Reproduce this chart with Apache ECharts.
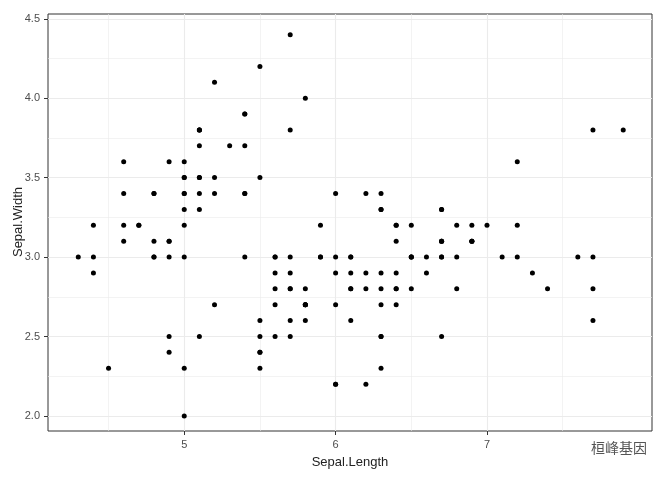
<!DOCTYPE html><html><head><meta charset="utf-8"><script src="https://cdn.jsdelivr.net/npm/echarts@6/dist/echarts.min.js"></script></head><body style="margin:0"><div id="c" style="width:665px;height:479px"></div><script>
const sepalLength=[5.1,4.9,4.7,4.6,5.0,5.4,4.6,5.0,4.4,4.9,5.4,4.8,4.8,4.3,5.8,5.7,5.4,5.1,5.7,5.1,5.4,5.1,4.6,5.1,4.8,5.0,5.0,5.2,5.2,4.7,4.8,5.4,5.2,5.5,4.9,5.0,5.5,4.9,4.4,5.1,5.0,4.5,4.4,5.0,5.1,4.8,5.1,4.6,5.3,5.0,
7.0,6.4,6.9,5.5,6.5,5.7,6.3,4.9,6.6,5.2,5.0,5.9,6.0,6.1,5.6,6.7,5.6,5.8,6.2,5.6,5.9,6.1,6.3,6.1,6.4,6.6,6.8,6.7,6.0,5.7,5.5,5.5,5.8,6.0,5.4,6.0,6.7,6.3,5.6,5.5,5.5,6.1,5.8,5.0,5.6,5.7,5.7,6.2,5.1,5.7,
6.3,5.8,7.1,6.3,6.5,7.6,4.9,7.3,6.7,7.2,6.5,6.4,6.8,5.7,5.8,6.4,6.5,7.7,7.7,6.0,6.9,5.6,7.7,6.3,6.7,7.2,6.2,6.1,6.4,7.2,7.4,7.9,6.4,6.3,6.1,7.7,6.3,6.4,6.0,6.9,6.7,6.9,5.8,6.8,6.7,6.7,6.3,6.5,6.2,5.9];
const sepalWidth=[3.5,3.0,3.2,3.1,3.6,3.9,3.4,3.4,2.9,3.1,3.7,3.4,3.0,3.0,4.0,4.4,3.9,3.5,3.8,3.8,3.4,3.7,3.6,3.3,3.4,3.0,3.4,3.5,3.4,3.2,3.1,3.4,4.1,4.2,3.1,3.2,3.5,3.6,3.0,3.4,3.5,2.3,3.2,3.5,3.8,3.0,3.8,3.2,3.7,3.3,
3.2,3.2,3.1,2.3,2.8,2.8,3.3,2.4,2.9,2.7,2.0,3.0,2.2,2.9,2.9,3.1,3.0,2.7,2.2,2.5,3.2,2.8,2.5,2.8,2.9,3.0,2.8,3.0,2.9,2.6,2.4,2.4,2.7,2.7,3.0,3.4,3.1,2.3,3.0,2.5,2.6,3.0,2.6,2.3,2.7,3.0,2.9,2.9,2.5,2.8,
3.3,2.7,3.0,2.9,3.0,3.0,2.5,2.9,2.5,3.6,3.2,2.7,3.0,2.5,2.8,3.2,3.0,3.8,2.6,2.2,3.2,2.8,2.8,2.7,3.3,3.2,2.8,3.0,2.8,3.0,2.8,3.8,2.8,2.8,2.6,3.0,3.4,3.1,3.0,3.1,3.1,3.1,2.7,3.2,3.3,3.0,2.5,3.0,3.4,3.0];
const xTicks=[5,6,7];
const yTicks=[2.0,2.5,3.0,3.5,4.0,4.5];
const xMinor=[4.5,5.5,6.5,7.5];
const yMinor=[2.25,2.75,3.25,3.75,4.25];
const pts=sepalLength.map((x,i)=>[x,sepalWidth[i]]);
const lbl={color:'#4d4d4d',fontSize:11,fontFamily:'Liberation Sans'};
const ml=(arr,key,w)=>arr.map(v=>({[key]:v,lineStyle:{color:'#ebebeb',width:w,type:'solid'}}));
const chart=echarts.init(document.getElementById('c'));
chart.setOption({
animation:false,
grid:{left:48,right:13,top:14,bottom:48,outerBoundsMode:'none',containLabel:false,show:true,borderColor:'#333',borderWidth:1},
xAxis:{type:'value',min:4.1,max:8.09,name:'Sepal.Length',nameLocation:'middle',nameGap:25,nameTextStyle:{color:'#222',fontSize:13,fontFamily:'Liberation Sans'},
axisLine:{show:false},splitLine:{show:false},
axisTick:{show:true,customValues:xTicks,length:4,lineStyle:{color:'#333'}},axisLabel:Object.assign({customValues:xTicks},lbl)},
yAxis:{type:'value',min:1.905,max:4.53,
axisLine:{show:false},splitLine:{show:false},
axisTick:{show:true,customValues:yTicks,length:4,lineStyle:{color:'#333'}},axisLabel:Object.assign({customValues:yTicks,formatter:v=>v.toFixed(1)},lbl)},
series:[{type:'scatter',data:pts,symbolSize:5,itemStyle:{color:'#000',opacity:1},z:5,
markLine:{silent:true,symbol:'none',label:{show:false},z:1,data:[].concat(ml(xMinor,'xAxis',0.6),ml(yMinor,'yAxis',0.6),ml(xTicks,'xAxis',1.1),ml(yTicks,'yAxis',1.1))}}],
graphic:[{type:'text',x:18,y:222,rotation:Math.PI/2,style:{text:'Sepal.Width',fill:'#222',fontSize:13,fontFamily:'Liberation Sans',align:'center',verticalAlign:'middle'}},
{type:'text',right:18,bottom:24,style:{text:'桓峰基因',fill:'#555',fontSize:14,fontFamily:'Noto Sans CJK SC'}}]
});
</script></body></html>
